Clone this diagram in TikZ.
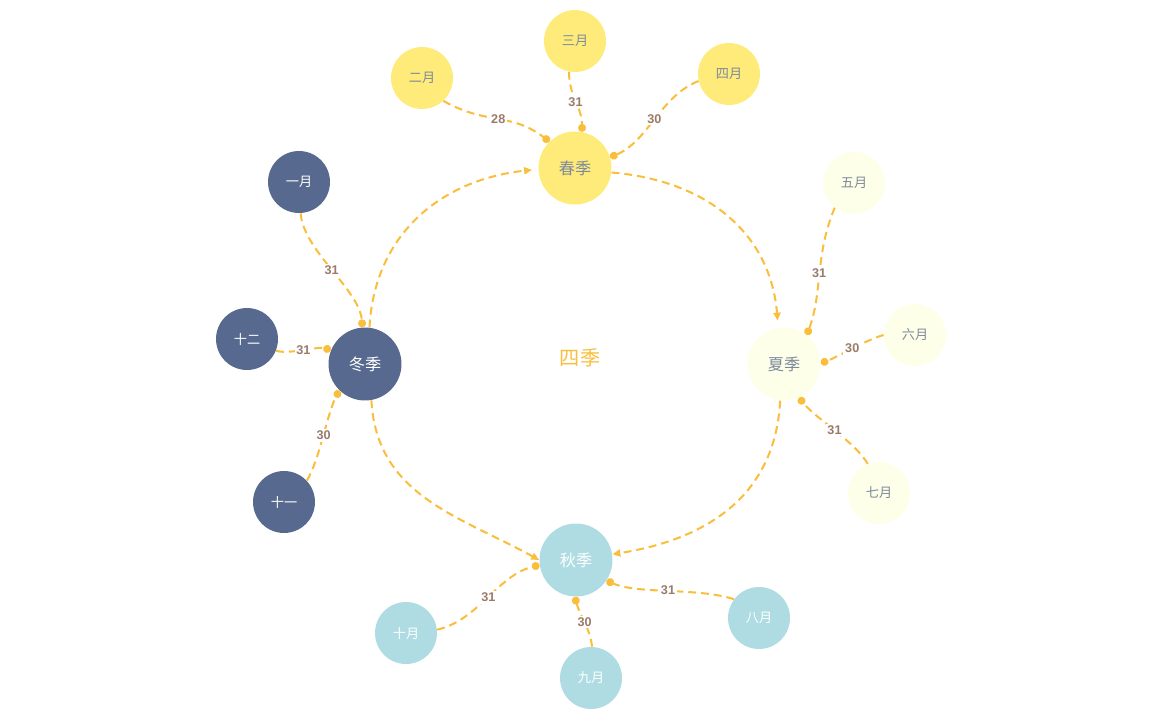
\documentclass[tikz,border=0pt]{standalone}
\usepackage{xcolor}
\definecolor{springfill}{HTML}{FFEB7A}
\definecolor{summerfill}{HTML}{FDFFE9}
\definecolor{autumnfill}{HTML}{AFDCE3}
\definecolor{winterfill}{HTML}{57698E}
\definecolor{softtext}{HTML}{7D8A9C}
\definecolor{ring}{HTML}{F9BE3C}
\definecolor{daycount}{HTML}{9A7B6A}
\usepackage{fontspec}
\setmainfont{Liberation Sans}
\newfontfamily\cjk{Noto Sans CJK SC}
\usepackage{tikz}
\usetikzlibrary{arrows.meta}
\tikzset{
    season/.style = {circle, inner sep=0pt, minimum size=1.46cm,
                     font=\cjk\fontsize{9.2}{10}\selectfont},
    month/.style = {circle, inner sep=0pt, minimum size=1.24cm,
                    font=\cjk\fontsize{7.5}{8}\selectfont},
    spring/.style = {fill=springfill, text=softtext},
    summer/.style = {fill=summerfill, text=softtext},
    autumn/.style = {fill=autumnfill, text=white},
    winter/.style = {fill=winterfill, text=white},
    ringarrow/.style = {-{Triangle[length=4.5pt, width=4pt]}, line width=1.15pt,
                        dash pattern=on 4.5pt off 2.8pt, color=ring},
    monthlink/.style = {-{Circle[length=4.5pt]}, line width=1.15pt,
                        dash pattern=on 4.5pt off 2.8pt, color=ring},
    days/.style = {fill=white, inner sep=1pt, text=daycount,
                   font=\bfseries\fontsize{7.2}{8}\selectfont},
}
\begin{document}
\begin{tikzpicture}[x=0.02cm, y=-0.02cm]
        \useasboundingbox (0,0) rectangle (1162,720);
        \node[season, spring] (chun) at (575,168) {春季};
        \node[season, summer] (xia) at (784,364) {夏季};
        \node[season, autumn] (qiu) at (576,560) {秋季};
        \node[season, winter] (dong) at (365,364) {冬季};
        \node[font=\cjk\fontsize{11.5}{12}\selectfont, text=ring] (siji) at (580,358) {四季};
        \node[month, spring] (m2) at (422,78) {二月};
        \node[month, spring] (m3) at (575,41) {三月};
        \node[month, spring] (m4) at (729,74) {四月};
        \node[month, summer] (m5) at (854,183) {五月};
        \node[month, summer] (m6) at (915,335) {六月};
        \node[month, summer] (m7) at (879,493) {七月};
        \node[month, autumn] (m8) at (759,618) {八月};
        \node[month, autumn] (m9) at (591,678) {九月};
        \node[month, autumn] (m10) at (406,633) {十月};
        \node[month, winter] (m11) at (284,502) {十一};
        \node[month, winter] (m12) at (247,339) {十二};
        \node[month, winter] (m1) at (299,182) {一月};
        \draw[ringarrow, shorten >=3.5pt] (dong.83) .. controls +(5,-95) and +(-95,10) .. (chun.182);
        \draw[ringarrow, shorten >=4pt] (chun.-7) .. controls +(95,8) and +(-8,-95) .. (xia.99);
        \draw[ringarrow] (xia.-96) .. controls +(-5,95) and +(95,-15) .. (qiu.9);
        \draw[ringarrow] (dong.-80) .. controls +(5,95) and +(-80,-44) .. (qiu.180);
        \draw[monthlink] (m2.-47) .. controls +(45,25) and +(-40,-30) .. (chun.134) node[days, pos=0.5] (d2) {28};
        \draw[monthlink] (m3.-101) .. controls +(0,25) and +(0,-25) .. (chun.79) node[days, pos=0.5] (d3) {31};
        \draw[monthlink] (m4.193) .. controls +(-38,15) and +(38,-16) .. (chun.17) node[days, pos=0.5] (d4) {30};
        \draw[monthlink] (m5.232) .. controls +(-20,48) and +(16,-42) .. (xia.52) node[days, pos=0.5] (d5) {31};
        \draw[monthlink] (m6.180) .. controls +(-18,5) and +(18,-7) .. (xia.1) node[days, pos=0.5] (d6) {30};
        \draw[monthlink] (m7.111) .. controls +(-15,-24) and +(18,22) .. (xia.-66) node[days, pos=0.5] (d7) {31};
        \draw[monthlink] (m8.143) .. controls +(-38,-12) and +(32,14) .. (qiu.-34) node[days, pos=0.5] (d8) {31};
        \draw[monthlink] (m9.88) .. controls +(-2,-18) and +(5,18) .. (qiu.-92) node[days, pos=0.5] (d9) {30};
        \draw[monthlink] (m10.6) .. controls +(42,-10) and +(-42,10) .. (qiu.188) node[days, pos=0.5] (d10) {31};
        \draw[monthlink] (m11.43) .. controls +(13,-22) and +(-12,22) .. (dong.226) node[days, pos=0.5] (d11) {30};
        \draw[monthlink] (m12.-22) .. controls +(12,4) and +(-12,-4) .. (dong.158) node[days, pos=0.5] (d12) {31};
        \draw[monthlink] (m1.-87) .. controls +(3,38) and +(-3,-38) .. (dong.94) node[days, pos=0.5] (d1) {31};
\end{tikzpicture}
\end{document}
